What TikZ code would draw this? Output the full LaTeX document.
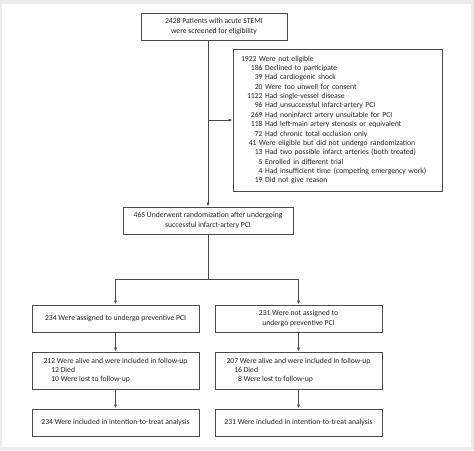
\documentclass[tikz,border=0pt]{standalone}
\usepackage{fontspec}
\setmainfont{Carlito}
\usetikzlibrary{arrows.meta}
\definecolor{linec}{HTML}{4A4A4A}
\definecolor{textc}{HTML}{222222}
\definecolor{framec}{HTML}{EBEBEB}
\newlength\wfour
\newlength\wtop
\newlength\wsub
\newcommand{\fz}{\fontsize{7.65}{9.36}\selectfont}
\newcommand{\nA}[1]{\makebox[\wtop][r]{#1}}
\newcommand{\nB}[1]{\makebox[\wsub][r]{#1}}
\newcommand{\nF}[1]{\makebox[\wfour][r]{#1}}
\newcommand{\xl}[1]{\mbox{#1}}
\begin{document}
\settowidth{\wfour}{\fz 0000}
\setlength{\wtop}{\wfour}
\setlength{\wsub}{\wfour}
\addtolength{\wsub}{6pt}
\begin{tikzpicture}[x=1pt,y=-1pt,
  box/.style={draw=linec, line width=0.8pt, fill=white, inner sep=0pt,
    font=\fz, text=textc, align=center},
  arr/.style={-{Latex[length=4pt,width=3pt]}, draw=linec, line width=0.7pt},
  ln/.style={draw=linec, line width=0.7pt}]
\fill[framec] (0,0) rectangle (474,450);
\fill[white] (2,4) rectangle (471,447);
\useasboundingbox (0,0) rectangle (474,450);
\node[box, minimum width=146pt, minimum height=27pt] (top) at (214,26.5)
  {2428 Patients with acute STEMI\\were screened for eligibility};
\node[box, text width=193pt, inner xsep=8pt, minimum height=142pt, align=left] (excl) at (337.5,120)
  {\xl{\nA{1922} Were not eligible}\\
   \xl{\nB{186} Declined to participate}\\
   \xl{\nB{39} Had cardiogenic shock}\\
   \xl{\nB{20} Were too unwell for consent}\\
   \xl{\nB{1122} Had single-vessel disease}\\
   \xl{\nB{96} Had unsuccessful infarct-artery PCI}\\
   \xl{\nB{269} Had noninfarct artery unsuitable for PCI}\\
   \xl{\nB{118} Had left-main artery stenosis or equivalent}\\
   \xl{\nB{72} Had chronic total occlusion only}\\
   \xl{\nA{41} Were eligible but did not undergo randomization}\\
   \xl{\nB{13} Had two possible infarct arteries (both treated)}\\
   \xl{\nB{5} Enrolled in different trial}\\
   \xl{\nB{4} Had insufficient time (competing emergency work)}\\
   \xl{\nB{19} Did not give reason}};
\node[box, minimum width=170pt, minimum height=27pt] (rand) at (208,220.5)
  {465 Underwent randomization after undergoing\\successful infarct-artery PCI};
\node[box, minimum width=167pt, minimum height=27pt] (L1) at (115.5,318.5)
  {234 Were assigned to undergo preventive PCI};
\node[box, minimum width=167pt, minimum height=27pt] (R1) at (298.5,318.5)
  {231 Were not assigned to\\undergo preventive PCI};
\node[box, minimum width=167pt, minimum height=37pt, align=left] (L2) at (115.5,370.5)
  {212 Were alive and were included in follow-up\\
   \nF{12} Died\\
   \nF{10} Were lost to follow-up};
\node[box, minimum width=167pt, minimum height=37pt, align=left] (R2) at (298.5,370.5)
  {207 Were alive and were included in follow-up\\
   \nF{16} Died\\
   \nF{8} Were lost to follow-up};
\node[box, minimum width=167pt, minimum height=27pt] (L3) at (115.5,422.5)
  {234 Were included in intention-to-treat analysis};
\node[box, minimum width=167pt, minimum height=27pt] (R3) at (298.5,422.5)
  {231 Were included in intention-to-treat analysis};
\coordinate (sp) at (208,279);
\draw[arr] (rand.north |- top.south) -- (rand.north);
\draw[arr] (rand.north |- excl.west) -- (excl.west);
\draw[ln] (rand.south) -- (sp);
\draw[arr] (sp) -| (L1.north);
\draw[arr] (sp) -| (R1.north);
\draw[arr] (L1.south) -- (L2.north);
\draw[arr] (R1.south) -- (R2.north);
\draw[arr] (L2.south) -- (L3.north);
\draw[arr] (R2.south) -- (R3.north);
\end{tikzpicture}
\end{document}
